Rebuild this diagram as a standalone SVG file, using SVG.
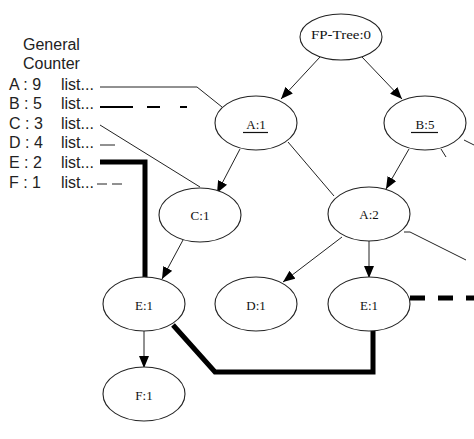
<svg xmlns="http://www.w3.org/2000/svg" width="474" height="439" viewBox="0 0 474 439">
<defs>
<marker id="arr" markerWidth="12" markerHeight="10" refX="12" refY="5" orient="auto" markerUnits="userSpaceOnUse">
<path d="M0,0 L12,5 L0,10 Z" fill="#000"/>
</marker>
<style>
.node ellipse{fill:#fff;stroke:#222;stroke-width:1.1}
.node text{font-family:"Liberation Serif","Times New Roman",serif;font-size:13px;fill:#111;text-anchor:middle}
.lbl{font-family:"Liberation Sans",Arial,sans-serif;font-size:16px;fill:#222}
.e{stroke:#222;stroke-width:1;fill:none}
.thin{stroke:#222;stroke-width:1;fill:none}
.thick{stroke:#000;stroke-width:5;fill:none}
</style>
</defs>
<rect width="474" height="439" fill="#fff"/>
<g id="counter">
<text class="lbl" x="23" y="50">General</text>
<text class="lbl" x="23" y="69">Counter</text>
<text class="lbl" x="9" y="90">A : 9</text><text class="lbl" x="61" y="90">list...</text>
<text class="lbl" x="9" y="109">B : 5</text><text class="lbl" x="61" y="109">list...</text>
<text class="lbl" x="9" y="129">C : 3</text><text class="lbl" x="61" y="129">list...</text>
<text class="lbl" x="9" y="148">D : 4</text><text class="lbl" x="61" y="148">list...</text>
<text class="lbl" x="9" y="168">E : 2</text><text class="lbl" x="61" y="168">list...</text>
<text class="lbl" x="9" y="188">F : 1</text><text class="lbl" x="61" y="188">list...</text>
</g>
<g id="connectors">
<line class="e" x1="320" y1="57" x2="281" y2="99" marker-end="url(#arr)"/>
<line class="e" x1="362" y1="57" x2="402" y2="99" marker-end="url(#arr)"/>
<line class="e" x1="240" y1="149" x2="217" y2="193" marker-end="url(#arr)"/>
<line class="e" x1="409" y1="149" x2="386" y2="189" marker-end="url(#arr)"/>
<line class="e" x1="288" y1="142" x2="334" y2="196"/>
<line class="e" x1="183" y1="240" x2="162" y2="279" marker-end="url(#arr)"/>
<line class="e" x1="144" y1="331" x2="144" y2="368" marker-end="url(#arr)"/>
<line class="e" x1="342" y1="237" x2="283" y2="282" marker-end="url(#arr)"/>
<line class="e" x1="369" y1="241" x2="369" y2="278" marker-end="url(#arr)"/>
<polyline class="thin" points="404,232 410,232 466,260"/>
<line class="thin" x1="464" y1="140" x2="474" y2="145"/>
<line class="thin" x1="441" y1="149" x2="446" y2="157"/>
<polyline class="thin" points="100,87 197,87 222,107"/>
<line x1="100" y1="107" x2="188" y2="107" stroke="#000" stroke-width="2" stroke-dasharray="33,14,13,20,7"/>
<line class="thin" x1="100" y1="125" x2="200" y2="187"/>
<line class="thin" x1="100" y1="145" x2="115" y2="145"/>
<polyline class="thick" points="100,162 145,162 145,278"/>
<polyline class="thick" points="173,325 215,372 373,372 373,331"/>
<line x1="410" y1="298" x2="474" y2="298" stroke="#000" stroke-width="5" stroke-dasharray="15,13"/>
<line x1="97" y1="184" x2="123" y2="184" stroke="#222" stroke-width="1" stroke-dasharray="10,5"/>
</g>
<g id="n-fptree" class="node"><ellipse cx="341" cy="37" rx="41" ry="23"/><text x="341" y="39" textLength="60" lengthAdjust="spacingAndGlyphs">FP-Tree:0</text></g>
<g id="n-a1" class="node"><ellipse cx="256" cy="123" rx="41" ry="27"/><text x="256" y="129">A:1</text><line x1="243" y1="132.5" x2="268" y2="132.5" stroke="#111" stroke-width="1.2"/></g>
<g id="n-b5" class="node"><ellipse cx="425" cy="123" rx="41" ry="27"/><text x="425" y="129">B:5</text><line x1="411" y1="132.5" x2="438" y2="132.5" stroke="#111" stroke-width="1.2"/></g>
<g id="n-c1" class="node"><ellipse cx="200" cy="215" rx="41" ry="27"/><text x="200" y="220">C:1</text></g>
<g id="n-a2" class="node"><ellipse cx="369" cy="214" rx="41" ry="27"/><text x="369" y="219">A:2</text></g>
<g id="n-e1a" class="node"><ellipse cx="144" cy="304" rx="41" ry="27"/><text x="144" y="310">E:1</text></g>
<g id="n-d1" class="node"><ellipse cx="256" cy="304" rx="41" ry="27"/><text x="256" y="310">D:1</text></g>
<g id="n-e1b" class="node"><ellipse cx="369" cy="304" rx="41" ry="27"/><text x="369" y="310">E:1</text></g>
<g id="n-f1" class="node"><ellipse cx="144" cy="394" rx="41" ry="27"/><text x="144" y="400">F:1</text></g>
</svg>
